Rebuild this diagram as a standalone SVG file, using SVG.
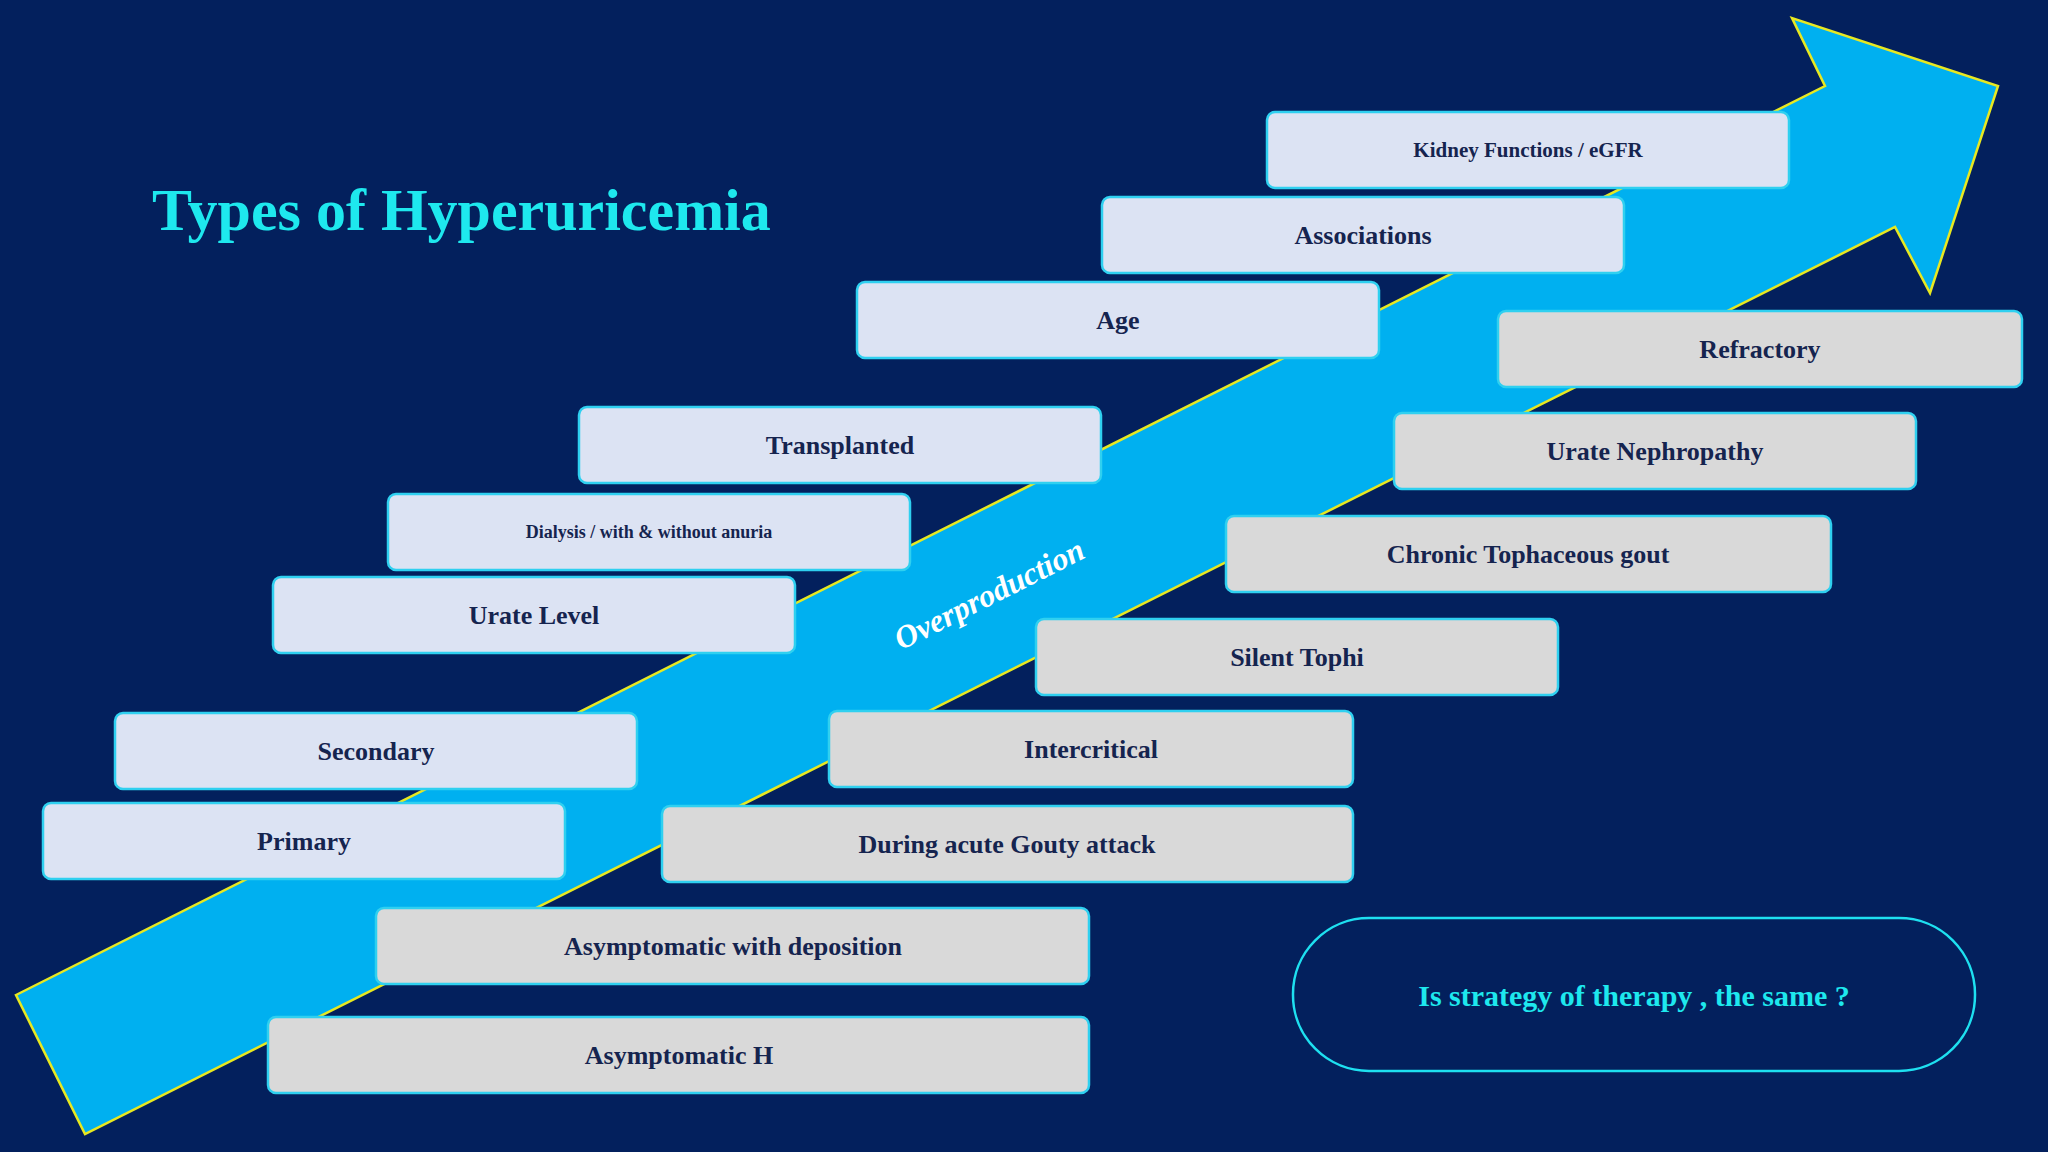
<svg xmlns="http://www.w3.org/2000/svg" width="2048" height="1152" viewBox="0 0 2048 1152">
<style>
.b rect{stroke:#2fd0f0;stroke-width:2.5}
.l rect{fill:#dce3f3}
.g rect{fill:#d9d9d9}
.b text{font-family:"Liberation Serif",serif;font-weight:bold;font-size:26px;fill:#15244f;text-anchor:middle;dominant-baseline:central}
</style>
<rect width="2048" height="1152" fill="#03205d"/>
<g id="arrow">
<polygon points="16,995 1825,86 1792,18 1998,86 1930,293 1895,227 85,1134" fill="#00b0f0" stroke="#e8e820" stroke-width="2.5"/>
<text transform="translate(989,594) rotate(-26.7)" font-family="Liberation Serif,serif" font-style="italic" font-weight="bold" font-size="32" fill="#ffffff" text-anchor="middle" dominant-baseline="central">Overproduction</text>
</g>
<text x="152" y="230" font-family="Liberation Serif,serif" font-weight="bold" font-size="60" fill="#1ee8ee">Types of Hyperuricemia</text>
<g id="connectors"></g>
<g id="kidney" class="b l"><rect x="1267" y="112" width="522" height="76" rx="8"/><text x="1528" y="150" style="font-size:21px">Kidney Functions / eGFR</text></g>
<g id="assoc" class="b l"><rect x="1102" y="197" width="522" height="76" rx="8"/><text x="1363" y="235">Associations</text></g>
<g id="age" class="b l"><rect x="857" y="282" width="522" height="76" rx="8"/><text x="1118" y="320">Age</text></g>
<g id="transplanted" class="b l"><rect x="579" y="407" width="522" height="76" rx="8"/><text x="840" y="445">Transplanted</text></g>
<g id="dialysis" class="b l"><rect x="388" y="494" width="522" height="76" rx="8"/><text x="649" y="532" style="font-size:18px">Dialysis / with &amp; without anuria</text></g>
<g id="uratelevel" class="b l"><rect x="273" y="577" width="522" height="76" rx="8"/><text x="534" y="615">Urate Level</text></g>
<g id="secondary" class="b l"><rect x="115" y="713" width="522" height="76" rx="8"/><text x="376" y="751">Secondary</text></g>
<g id="primary" class="b l"><rect x="43" y="803" width="522" height="76" rx="8"/><text x="304" y="841">Primary</text></g>
<g id="refractory" class="b g"><rect x="1498" y="311" width="524" height="76" rx="8"/><text x="1760" y="349">Refractory</text></g>
<g id="nephropathy" class="b g"><rect x="1394" y="413" width="522" height="76" rx="8"/><text x="1655" y="451">Urate Nephropathy</text></g>
<g id="chronic" class="b g"><rect x="1226" y="516" width="605" height="76" rx="8"/><text x="1528" y="554">Chronic Tophaceous gout</text></g>
<g id="silent" class="b g"><rect x="1036" y="619" width="522" height="76" rx="8"/><text x="1297" y="657">Silent Tophi</text></g>
<g id="intercritical" class="b g"><rect x="829" y="711" width="524" height="76" rx="8"/><text x="1091" y="749">Intercritical</text></g>
<g id="during" class="b g"><rect x="662" y="806" width="691" height="76" rx="8"/><text x="1007" y="844">During acute Gouty attack</text></g>
<g id="deposition" class="b g"><rect x="376" y="908" width="713" height="76" rx="8"/><text x="733" y="946">Asymptomatic with deposition</text></g>
<g id="asympH" class="b g"><rect x="268" y="1017" width="821" height="76" rx="8"/><text x="679" y="1055">Asymptomatic H</text></g>
<g id="question"><rect x="1293" y="918" width="682" height="153" rx="76" fill="none" stroke="#1ee0f0" stroke-width="2.5"/><text x="1634" y="995" font-family="Liberation Serif,serif" font-weight="bold" font-size="30" fill="#1ee8ee" text-anchor="middle" dominant-baseline="central">Is strategy of therapy , the same ?</text></g>
</svg>
